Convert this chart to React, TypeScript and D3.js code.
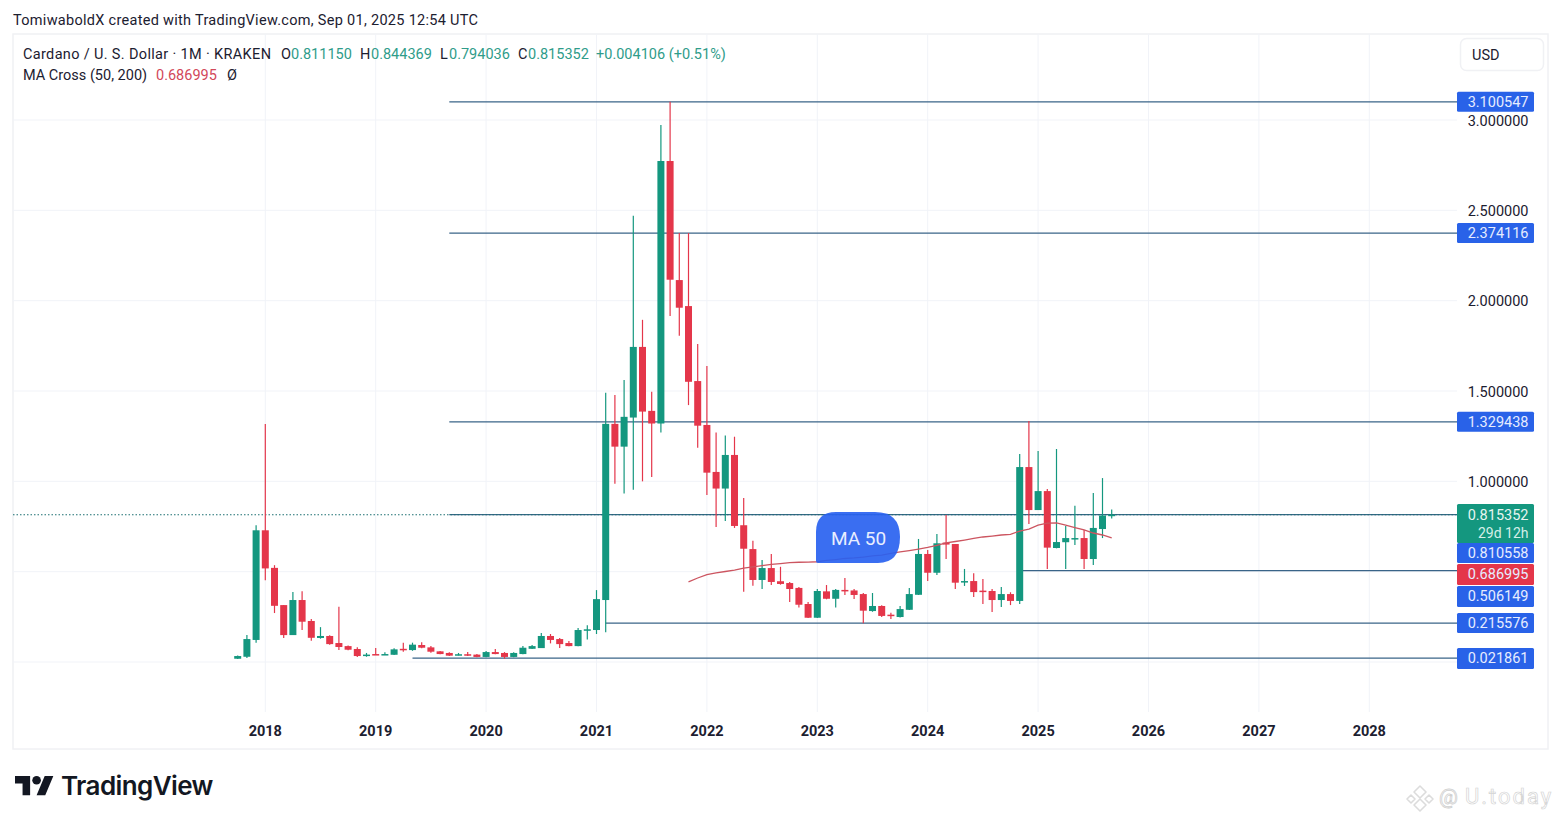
import * as d3 from 'd3'

// Monthly bars, Oct 2017 to Sep 2025 (96 bars)
const opens = [
  0.018, 0.029, 0.122,
  0.729, 0.521, 0.315, 0.149, 0.343, 0.227, 0.133, 0.144, 0.105, 0.088, 0.072, 0.039,
  0.044, 0.04, 0.04, 0.073, 0.066, 0.094, 0.081, 0.059, 0.05, 0.04, 0.043, 0.041,
  0.028, 0.055, 0.05, 0.028, 0.044, 0.073, 0.077, 0.144, 0.127, 0.105, 0.088, 0.177,
  0.177, 0.343, 1.318, 1.192, 1.353, 1.744, 1.39, 1.32, 2.773, 2.114, 1.97, 1.555,
  1.312, 1.052, 0.96, 1.146, 0.757, 0.625, 0.454, 0.52, 0.447, 0.437, 0.41, 0.321,
  0.245, 0.391, 0.35, 0.399, 0.396, 0.376, 0.282, 0.31, 0.262, 0.249, 0.289, 0.372,
  0.598, 0.494, 0.661, 0.653, 0.441, 0.448, 0.395, 0.393, 0.343, 0.376, 0.338, 1.079,
  0.841, 0.946, 0.631, 0.663, 0.682, 0.686, 0.57, 0.736, 0.81115,
]
const highs = [
  0.036, 0.149, 0.757,
  1.318, 0.536, 0.315, 0.387, 0.392, 0.238, 0.193, 0.148, 0.306, 0.092, 0.081, 0.05,
  0.077, 0.054, 0.076, 0.107, 0.107, 0.11, 0.088, 0.061, 0.054, 0.05, 0.055, 0.044,
  0.061, 0.072, 0.055, 0.054, 0.088, 0.094, 0.16, 0.155, 0.133, 0.116, 0.188, 0.204,
  0.398, 1.491, 1.478, 1.561, 2.47, 1.894, 1.496, 2.972, 3.100547, 2.374, 2.374, 1.76,
  1.638, 1.27, 1.253, 1.247, 0.908, 0.671, 0.565, 0.598, 0.527, 0.443, 0.415, 0.332,
  0.404, 0.426, 0.404, 0.465, 0.404, 0.382, 0.382, 0.314, 0.273, 0.31, 0.41, 0.681,
  0.62, 0.708, 0.814, 0.653, 0.515, 0.491, 0.459, 0.404, 0.415, 0.386, 1.151, 1.334,
  1.168, 0.958, 1.179, 0.753, 0.865, 0.731, 0.935, 1.018, 0.844369,
]
const lows = [
  0.017, 0.022, 0.107,
  0.453, 0.271, 0.133, 0.149, 0.177, 0.118, 0.129, 0.096, 0.066, 0.065, 0.028, 0.029,
  0.039, 0.039, 0.039, 0.057, 0.062, 0.076, 0.051, 0.043, 0.033, 0.037, 0.033, 0.026,
  0.026, 0.043, 0.018, 0.026, 0.043, 0.072, 0.077, 0.103, 0.077, 0.087, 0.087, 0.125,
  0.155, 0.164, 0.987, 0.932, 0.954, 1.0, 1.024, 1.27, 1.915, 1.806, 1.422, 1.186,
  0.925, 0.747, 0.78, 0.742, 0.389, 0.422, 0.404, 0.426, 0.428, 0.332, 0.301, 0.244,
  0.244, 0.347, 0.301, 0.371, 0.349, 0.214, 0.278, 0.249, 0.238, 0.247, 0.288, 0.371,
  0.448, 0.482, 0.57, 0.404, 0.421, 0.36, 0.321, 0.277, 0.304, 0.315, 0.321, 0.764,
  0.841, 0.515, 0.629, 0.515, 0.648, 0.515, 0.537, 0.686, 0.794036,
]
const closes = [
  0.033, 0.127, 0.729,
  0.518, 0.311, 0.149, 0.343, 0.223, 0.134, 0.144, 0.099, 0.083, 0.068, 0.033, 0.041,
  0.04, 0.044, 0.07, 0.066, 0.096, 0.079, 0.057, 0.044, 0.035, 0.043, 0.039, 0.028,
  0.055, 0.044, 0.028, 0.05, 0.079, 0.088, 0.144, 0.122, 0.099, 0.088, 0.177, 0.181,
  0.348, 1.318, 1.192, 1.357, 1.744, 1.386, 1.32, 2.773, 2.116, 1.961, 1.551, 1.308,
  1.048, 0.96, 1.146, 0.753, 0.627, 0.454, 0.52, 0.443, 0.432, 0.404, 0.317, 0.245,
  0.393, 0.35, 0.399, 0.393, 0.371, 0.284, 0.31, 0.255, 0.256, 0.293, 0.376, 0.598,
  0.494, 0.657, 0.65, 0.439, 0.448, 0.387, 0.389, 0.343, 0.376, 0.338, 1.079, 0.841,
  0.946, 0.633, 0.664, 0.686, 0.686, 0.57, 0.742, 0.811, 0.815352,
]

// MA 50 starts on the Nov 2021 bar
const maFirstBar = 49
const ma50 = [
  0.443, 0.465, 0.484, 0.493, 0.501, 0.509, 0.52, 0.526, 0.533, 0.54, 0.545, 0.55,
  0.552, 0.553, 0.555, 0.562, 0.567, 0.573, 0.576, 0.581, 0.587, 0.592, 0.601, 0.609,
  0.617, 0.625, 0.634, 0.645, 0.659, 0.667, 0.675, 0.684, 0.692, 0.697, 0.703, 0.706,
  0.725, 0.736, 0.758, 0.769, 0.77, 0.758, 0.744, 0.731, 0.714, 0.703, 0.686995,
]

const yearLabels = ['2018', '2019', '2020', '2021', '2022', '2023', '2024', '2025', '2026', '2027', '2028']
const yearBars = [3, 15, 27, 39, 51, 63, 75, 87, 99, 111, 123]
const priceTicks = [0, 0.5, 1, 1.5, 2, 2.5, 3]
const priceTickLabels = [1, 1.5, 2, 2.5, 3]

const levelValues = [3.100547, 2.374116, 1.329438, 0.815352, 0.506149, 0.215576, 0.021861]
const levelFirstBars = [23, 23, 23, 23, 85, 40, 19]

const GREEN = '#14977f'
const RED = '#e4364a'
const BLUE = '#2962e8'
const LINE = '#3a6488'
const TEXT = '#1c2030'
const GRID = '#f1f3f8'
const FONT = 'Roboto, "Liberation Sans", sans-serif'

const FRAME = { left: 13, top: 34, right: 1548, bottom: 749 }
const BAR_W = 7
const TAG_L = 1457
const TAG_W = 77
const TAG_TEXT_X = 1528.5

const x = d3.scaleLinear().domain([0, 95]).range([237.7, 1111.7])
const y = d3.scaleLinear().domain([0, 3]).range([662, 120])

const maLine = d3
  .line<number>()
  .x((_, i) => x(maFirstBar + i))
  .y((d) => y(d))

function Tag({ top, h = 20, fill, label }: { top: number; h?: number; fill: string; label: string }) {
  return (
    <g>
      <rect x={TAG_L} y={top} width={TAG_W} height={h} rx={1.5} fill={fill} />
      <text x={TAG_TEXT_X} y={top + 15} textAnchor="end" fill="#e6ecff" fontSize={14.5}>
        {label}
      </text>
    </g>
  )
}

export default function App() {
  return (
    <svg
      width={1561}
      height={824}
      style={{ position: 'absolute', left: 0, top: 0, background: '#fff' }}
      fontFamily={FONT}
    >
      <text x={13} y={25} fontSize={14.5} fill={TEXT} textLength={465} lengthAdjust="spacing">
        TomiwaboldX created with TradingView.com, Sep 01, 2025 12:54 UTC
      </text>

      <rect
        x={FRAME.left}
        y={FRAME.top}
        width={FRAME.right - FRAME.left}
        height={FRAME.bottom - FRAME.top}
        fill="none"
        stroke="#f0f1f4"
        strokeWidth={1.5}
      />

      {/* Grid */}
      {priceTicks.map((t) => (
        <line key={t} x1={FRAME.left} x2={1457} y1={y(t)} y2={y(t)} stroke={GRID} />
      ))}
      {yearBars.map((b) => (
        <line key={b} x1={x(b)} x2={x(b)} y1={FRAME.top} y2={712} stroke={GRID} />
      ))}

      {/* Horizontal levels and price line */}
      {levelValues.map((v, i) => (
        <line key={v} x1={x(levelFirstBars[i])} x2={TAG_L} y1={y(v)} y2={y(v)} stroke={LINE} strokeWidth={1.2} />
      ))}
      <line
        x1={FRAME.left}
        x2={TAG_L}
        y1={y(0.815352)}
        y2={y(0.815352)}
        stroke="#1d6f72"
        strokeWidth={1.1}
        strokeDasharray="1.5 2"
      />

      {/* Candles */}
      {opens.map((o, i) => {
        const c = closes[i]
        const color = c >= o ? GREEN : RED
        const top = y(Math.max(o, c))
        const bodyH = Math.max(1.5, Math.abs(y(o) - y(c)))
        return (
          <g key={i}>
            <line x1={x(i)} x2={x(i)} y1={y(highs[i])} y2={y(lows[i])} stroke={color} strokeWidth={1.2} />
            <rect x={x(i) - BAR_W / 2} y={top} width={BAR_W} height={bodyH} fill={color} />
          </g>
        )
      })}

      <path d={maLine(ma50) ?? ''} fill="none" stroke="#cc5560" strokeWidth={1.3} />

      {/* MA 50 callout */}
      <path
        d="M818 563 Q816 563 816 561 L816 532 Q816 512 836 512 L875 512 Q900 512 900 537 Q900 563 878 563 Z"
        fill="#2962f0"
        fillOpacity={0.92}
      />
      <text x={858.5} y={545} textAnchor="middle" fontSize={19} fill="#e8eeff">
        MA 50
      </text>

      {/* Legend */}
      <text x={23} y={59} fontSize={14.5} fill={TEXT} textLength={248} lengthAdjust="spacing">
        Cardano / U. S. Dollar · 1M · KRAKEN
      </text>
      <text y={59} fontSize={14.5} fill={TEXT}>
        <tspan x={281}>O</tspan>
        <tspan x={291} fill="#2f9c8a">0.811150</tspan>
        <tspan x={360}>H</tspan>
        <tspan x={371} fill="#2f9c8a">0.844369</tspan>
        <tspan x={440}>L</tspan>
        <tspan x={449} fill="#2f9c8a">0.794036</tspan>
        <tspan x={518}>C</tspan>
        <tspan x={528} fill="#2f9c8a">0.815352</tspan>
        <tspan x={596} fill="#2f9c8a">+0.004106 (+0.51%)</tspan>
      </text>
      <text y={80} fontSize={14.5} fill={TEXT}>
        <tspan x={23}>MA Cross (50, 200)</tspan>
        <tspan x={156} fill="#d2485a">0.686995</tspan>
        <tspan x={227}>Ø</tspan>
      </text>

      {/* USD button */}
      <rect x={1460.5} y={38.5} width={83} height={32} rx={6} fill="#fff" stroke="#f0f1f4" strokeWidth={1.5} />
      <text x={1472} y={60} fontSize={14.5} fill={TEXT}>
        USD
      </text>

      {/* Price axis */}
      {priceTickLabels.map((t) => (
        <text key={t} x={TAG_TEXT_X} y={y(t) + 5.5} textAnchor="end" fontSize={14.5} fill={TEXT}>
          {t.toFixed(6)}
        </text>
      ))}

      {/* Time axis */}
      {yearLabels.map((label, i) => (
        <text key={label} x={x(yearBars[i])} y={736} textAnchor="middle" fontSize={14.5} fontWeight={700} fill={TEXT}>
          {label}
        </text>
      ))}

      {/* Tags; the lower ones are stacked by the axis so they sit away from their price */}
      <Tag top={y(levelValues[0]) - 10} fill={BLUE} label="3.100547" />
      <Tag top={y(levelValues[1]) - 10} fill={BLUE} label="2.374116" />
      <Tag top={y(levelValues[2]) - 10} fill={BLUE} label="1.329438" />
      <Tag top={543} fill={BLUE} label="0.810558" />
      <g>
        <rect x={TAG_L} y={504} width={TAG_W} height={39} rx={1.5} fill={GREEN} />
        <text x={TAG_TEXT_X} y={520} textAnchor="end" fill="#e6f5f0" fontSize={14.5}>
          0.815352
        </text>
        <text x={TAG_TEXT_X} y={538} textAnchor="end" fill="#d5efe8" fontSize={14}>
          29d 12h
        </text>
      </g>
      <Tag top={564} h={21} fill={RED} label="0.686995" />
      <Tag top={586} h={21} fill={BLUE} label="0.506149" />
      <Tag top={y(levelValues[5]) - 10} fill={BLUE} label="0.215576" />
      <Tag top={y(levelValues[6]) - 10} h={21} fill={BLUE} label="0.021861" />

      {/* TradingView logo */}
      <g transform="translate(15 771.6) scale(1.08)" fill="#131722">
        <path d="M14 22H7V11H0V4h14v18zM28 22h-8l7.5-18h8L28 22z" />
        <circle cx={20} cy={8} r={4} />
      </g>
      <text x={61} y={795} fontSize={26} fontWeight={600} fill="#131722" fontFamily="Inter, sans-serif" letterSpacing={-0.6}>
        TradingView
      </text>

      {/* Watermark */}
      <g fill="#fff" stroke="#dcdcdc" strokeWidth={1.6} strokeLinejoin="round">
        <path d="M1420 786 l6 6 -6 6 -6 -6z" />
        <path d="M1420 799 l6 6 -6 6 -6 -6z" />
        <path d="M1411 795 l4 4 -4 4 -4 -4z" />
        <path d="M1429 795 l4 4 -4 4 -4 -4z" />
      </g>
      <text x={1439} y={804} fontSize={21} fill="#fff" stroke="#d0d0d0" strokeWidth={0.8}>
        @
      </text>
      <text x={1465} y={804} fontSize={22} fill="#fff" stroke="#d4d4d4" strokeWidth={0.7} letterSpacing={2}>
        U.today
      </text>
    </svg>
  )
}
